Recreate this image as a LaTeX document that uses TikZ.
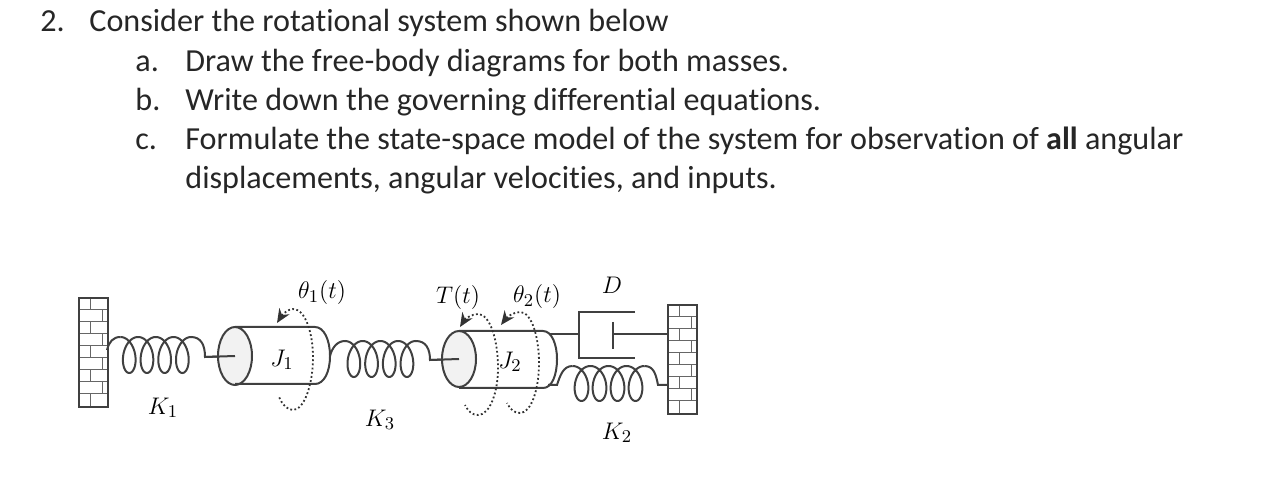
\documentclass[tikz,border=0pt]{standalone}
\usepackage{fontspec}
\usepackage{amsmath}
\setmainfont[Ligatures=NoCommon]{Carlito}
\usetikzlibrary{arrows.meta}
\tikzstyle{line} = [draw=black!75, line width=1pt]
\tikzstyle{brick} = [draw=black!60, line width=.5pt]
\tikzstyle{spin} = [draw=black!80, line width=.9pt, dash pattern=on .9pt off 1.2pt, {Stealth[length=7pt,width=6pt]}-]
\tikzstyle{txt} = [anchor=base west, inner sep=0pt, font=\fontsize{16.06}{18}\selectfont, text=black!85]
\tikzstyle{lab} = [inner sep=0pt, font=\fontsize{13}{15}\selectfont]
\newcommand{\coilrun}[5]{\draw[line] plot[domain=0:1440, samples=240, smooth] ({#1+#4*(\x/360)+#5*sin(\x)},{#2+#3-#3*cos(\x)});}
\newcommand{\wallrun}[3]{%
	\foreach \r in {1,...,8} {\draw[brick] (#1,#2+12*\r) -- (#1+29,#2+12*\r);}%
	\foreach \r in {0,2,4,6,8} {\draw[brick] (#1+11,#2+12*\r) -- (#1+11,#2+12*\r+12);}%
	\foreach \r in {1,3,5,7} {\draw[brick] (#1+23,#2+12*\r) -- (#1+23,#2+12*\r+12);}%
	\draw[line] (#1,#2) rectangle (#1+29,#3);}
\begin{document}
\begin{tikzpicture}[x=.5pt, y=-.5pt]
	\useasboundingbox (0,0) rectangle (1277,490);
	\node [txt] (q) at (40,32) {2.};
	\node [txt] (qt) at (89,32) {Consider the rotational system shown below};
	\node [txt] (a) at (135,72) {a.};
	\node [txt] (at) at (185,72) {Draw the free-body diagrams for both masses.};
	\node [txt] (b) at (135,111) {b.};
	\node [txt] (bt) at (185,111) {Write down the governing differential equations.};
	\node [txt] (c) at (135,150) {c.};
	\node [txt] (ct) at (185,150) {Formulate the state-space model of the system for observation of \textbf{all} angular};
	\node [txt] (ct2) at (185,189) {displacements, angular velocities, and inputs.};
	\wallrun{79}{298}{407}
	\wallrun{668}{305}{414}
	\coordinate (s1a) at (107,350);
	\coordinate (s1b) at (120.4,337);
	\coordinate (s1c) at (191,337);
	\coordinate (s1d) at (205,357);
	\coordinate (h1) at (235,356);
	\draw[line] (s1a) .. controls (109,342) and (113,337) .. (s1b);
	\coilrun{120.4}{337}{18}{17.7}{10.4}
	\draw[line] (s1c) .. controls (201,337) and (205,345) .. (s1d) -- (h1);
	\fill[black!5] (h1) ellipse (17 and 29);
	\draw[line] (h1) ellipse (17 and 29);
	\draw[line] (s1d) -- (h1);
	\draw[line] (235,327) -- (315,327) .. controls (324,327) and (330,340) .. (330,356) .. controls (330,372) and (324,384) .. (315,384) -- (235,384);
	\coordinate (s3a) at (330,356);
	\coordinate (s3b) at (345,341);
	\coordinate (s3c) at (416,341);
	\coordinate (s3d) at (430,360);
	\coordinate (h2) at (459,359);
	\draw[line] (s3a) .. controls (332,348) and (337,341) .. (s3b);
	\coilrun{345}{341}{18}{17.7}{10.4}
	\draw[line] (s3c) .. controls (426,341) and (430,349) .. (s3d) -- (h2);
	\fill[black!5] (h2) ellipse (17 and 28);
	\draw[line] (h2) ellipse (17 and 28);
	\draw[line] (s3d) -- (h2);
	\draw[line] (459,331) -- (543,331) .. controls (552,331) and (557,345) .. (557,359) .. controls (557,375) and (552,388) .. (543,388) -- (459,388);
	\coordinate (d1) at (550,334);
	\coordinate (d2) at (579,334);
	\coordinate (p1) at (613,334);
	\coordinate (w2) at (668,334);
	\draw[line] (d1) -- (d2);
	\draw[line] (635,312) -- (579,312) -- (579,358) -- (635,358);
	\draw[line] (613,322) -- (613,349);
	\draw[line] (p1) -- (w2);
	\coordinate (s2a) at (548,385);
	\coordinate (s2b) at (572.5,366);
	\coordinate (s2c) at (644.5,366);
	\coordinate (s2d) at (658,385);
	\coordinate (w3) at (668,385);
	\draw[line] (s2a) -- (557,385) .. controls (560,376) and (563,366) .. (s2b);
	\coilrun{572.5}{366}{17.5}{18}{11}
	\draw[line] (s2c) .. controls (654,366) and (656,375) .. (s2d) -- (w3);
	\draw[spin] (277,323) .. controls (282,315) and (288,309) .. (293,309) .. controls (306,309) and (313,335) .. (313,357) .. controls (313,385) and (304,410) .. (293,410) .. controls (287,410) and (282,404) .. (279,397);
	\draw[spin] (460,327) .. controls (465,319) and (472,314) .. (478,314) .. controls (490,314) and (498,340) .. (498,368) .. controls (498,392) and (490,415) .. (478,415) .. controls (472,415) and (468,411) .. (465,405);
	\draw[spin] (501,325) .. controls (507,317) and (514,312) .. (520,312) .. controls (532,312) and (539,338) .. (539,363) .. controls (539,390) and (531,413) .. (520,413) .. controls (514,413) and (510,409) .. (507,403);
	\node [lab] (th1) at (322,293) {$\theta_1(t)$};
	\node [lab] (tq) at (458,298) {$T(t)$};
	\node [lab] (th2) at (537,297) {$\theta_2(t)$};
	\node [lab] (dmp) at (612,285) {$D$};
	\node [lab] (j1) at (282,360) {$J_1$};
	\node [lab] (j2) at (510,362) {$J_2$};
	\node [lab] (k1) at (163,408) {$K_1$};
	\node [lab] (k3) at (380,420) {$K_3$};
	\node [lab] (k2) at (617,433) {$K_2$};
\end{tikzpicture}
\end{document}
